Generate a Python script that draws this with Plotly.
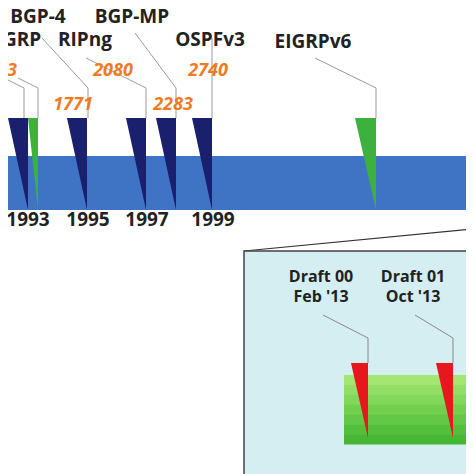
import plotly.graph_objects as go

# main timeline events (x position of triangle tip, colour kind)
event_x = [20, 30, 79, 138, 168, 204, 368]
event_kind = ["old", "new", "old", "old", "old", "old", "new"]
event_width = [20, 10, 20, 20, 20, 20, 21]

proto_labels = ["BGP-4", "GRP", "RIPng", "BGP-MP", "OSPFv3", "EIGRPv6", "IS"]
proto_x = [30, 14, 77, 124, 202, 305, 475]
proto_y = [10, 33, 33, 10, 33, 35, 35]

rfc_labels = ["3", "1771", "2080", "2283", "2740"]
rfc_x = [4, 65, 105, 165, 200]
rfc_y = [63, 97, 63, 97, 63]

years = ["1993", "1995", "1997", "1999"]
year_x = [20, 80, 139, 205]

# callouts: label anchor -> elbow -> triangle top
callout_from = [(34, 30), (78, 50), (127, 25), (204, 30), (307, 50), (0, 72), (10, 70)]
callout_to = [80, 138, 168, 204, 368, 16, 30]

draft_labels = ["Draft 00<br>Feb '13", "Draft 01<br>Oct '13", "Dr<br>Ap"]
draft_x = [313, 405, 478]
draft_tip = [360, 445]

colors = {"old": "#1b206e", "new": "#3db13d"}

fig = go.Figure()
shapes = [
    dict(type="rect", x0=0, x1=474, y0=148, y1=202, fillcolor="#3f73c4", line_width=0, layer="below"),
    dict(type="line", x0=236, y0=243, x1=474, y1=220, line=dict(color="#333", width=1.2), layer="below"),
    dict(type="rect", x0=236, x1=476, y0=243, y1=476, fillcolor="#d5eef2",
         line=dict(color="#444", width=1.5), layer="below"),
]
# gradient green bar in inset
greens = ["#a3e672", "#92de66", "#82d85a", "#72d04e", "#62c845", "#53bf3c", "#46b634"]
h = (436 - 367) / len(greens)
for n, g in enumerate(greens):
    shapes.append(dict(type="rect", x0=336, x1=476, y0=367 + n * h, y1=367 + (n + 1) * h + 0.5,
                       fillcolor=g, line_width=0, layer="below"))
fig.update_layout(shapes=shapes)

for (fx, fy), tx in zip(callout_from, callout_to):
    fig.add_trace(go.Scatter(x=[fx, tx, tx], y=[fy, 80, 110], mode="lines",
                             line=dict(color="#999", width=1), hoverinfo="skip"))
for tx, fx in zip(draft_tip, [315, 407]):
    fig.add_trace(go.Scatter(x=[fx, tx, tx], y=[307, 330, 355], mode="lines",
                             line=dict(color="#888", width=1), hoverinfo="skip"))

for x, k, w in zip(event_x, event_kind, event_width):
    fig.add_trace(go.Scatter(x=[x - w, x, x, x - w], y=[110, 110, 202, 110], fill="toself",
                             mode="none", fillcolor=colors[k], hoverinfo="skip"))
for x in draft_tip:
    fig.add_trace(go.Scatter(x=[x - 17, x, x, x - 17], y=[355, 355, 430, 355], fill="toself",
                             mode="none", fillcolor="#e8171e", hoverinfo="skip"))

font = dict(family="Open Sans", size=19, color="#222", weight="bold")
fig.add_trace(go.Scatter(x=proto_x, y=proto_y, text=proto_labels, mode="text", cliponaxis=False,
                         textfont=font, textposition="middle center"))
fig.add_trace(go.Scatter(x=rfc_x, y=rfc_y, text=rfc_labels, mode="text", cliponaxis=False,
                         textfont=dict(family="Open Sans", size=18, color="#f07a24",
                                       style="italic", weight="bold"),
                         textposition="middle center"))
fig.add_trace(go.Scatter(x=year_x, y=[213] * len(years), text=years, mode="text", cliponaxis=False,
                         textfont=font, textposition="middle center"))
fig.add_trace(go.Scatter(x=draft_x, y=[280] * len(draft_labels), text=draft_labels, mode="text",
                         cliponaxis=False,
                         textfont=dict(family="Open Sans", size=16, color="#222", weight="bold"),
                         textposition="middle center"))

fig.update_layout(
    width=474, height=474, margin=dict(l=0, r=0, t=0, b=0, autoexpand=False),
    plot_bgcolor="white", paper_bgcolor="white", showlegend=False,
    xaxis=dict(range=[0, 474], visible=False),
    yaxis=dict(range=[474, 0], visible=False),
)
fig.write_html("out.html")
